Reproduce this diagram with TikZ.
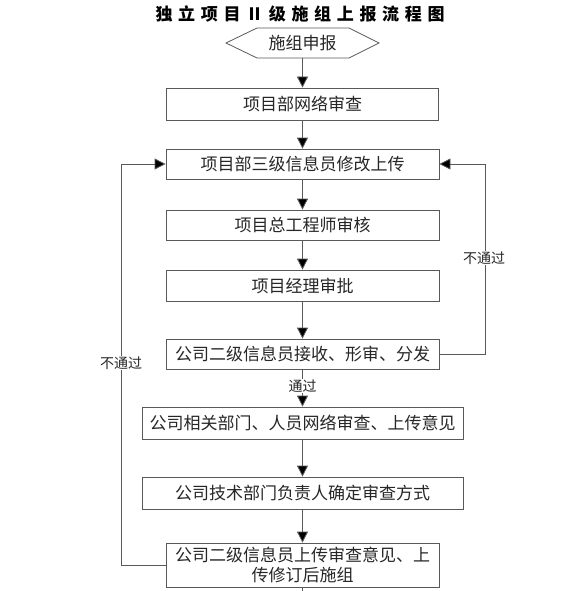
\documentclass[tikz,border=0pt]{standalone}
\usepackage{fontspec}
\setmainfont{Noto Sans CJK SC}
\newfontfamily\cjk{Noto Sans CJK SC}
\usetikzlibrary{arrows.meta}
\begin{document}
\begin{tikzpicture}[x=1pt,y=-1pt,
  line/.style={draw=black!65, line width=0.8pt},
  arr/.style={line, -{Triangle[width=11pt,length=11pt,fill=black]}},
  box/.style={draw=black!65, line width=0.8pt, rectangle, inner sep=0pt,
    font=\cjk\fontsize{17}{20.5}\selectfont, text=black!85},
  lbl/.style={font=\cjk\fontsize{14}{16}\selectfont, text=black!85, fill=white, inner sep=1pt}
]
\useasboundingbox (0,0) rectangle (575,591);
\node[font=\cjk\bfseries\fontsize{17}{20}\selectfont] (title) at (300,14)
  {独\,\,立\,\,项\,\,目\,\,Ⅱ\,\,级\,\,施\,\,组\,\,上\,\,报\,\,流\,\,程\,\,图};
% hexagon start
\node[box, draw=none, minimum width=152pt, minimum height=30pt] (s) at (302.5,43) {施组申报};
\draw[line] (226,43) -- (257,28) -- (349,28) -- (379,43) -- (349,58) -- (257,58) -- cycle;
\node[box, minimum width=272pt, minimum height=32pt] (b1) at (302.5,104) {项目部网络审查};
\node[box, minimum width=273pt, minimum height=30pt] (b2) at (302.5,164) {项目部三级信息员修改上传};
\node[box, minimum width=273pt, minimum height=30pt] (b3) at (302.5,225) {项目总工程师审核};
\node[box, minimum width=273pt, minimum height=31pt] (b4) at (302.5,285.5) {项目经理审批};
\node[box, minimum width=273pt, minimum height=30pt] (b5) at (302.5,354) {公司二级信息员接收、形审、分发};
\node[box, minimum width=321pt, minimum height=32pt] (b6) at (302.5,423) {公司相关部门、人员网络审查、上传意见};
\node[box, minimum width=321pt, minimum height=32pt] (b7) at (302.5,493) {公司技术部门负责人确定审查方式};
\node[box, minimum width=273pt, minimum height=44pt, align=center] (b8) at (302.5,565)
  {公司二级信息员上传审查意见、上\\传修订后施组};
\coordinate (end) at (302.5,591);
% vertical flow
\draw[arr] (s.south) -- (b1.north);
\draw[arr] (b1) -- (b2);
\draw[arr] (b2) -- (b3);
\draw[arr] (b3) -- (b4);
\draw[arr] (b4) -- (b5);
\draw[arr] (b5) -- node[lbl, pos=0.45] (pass) {通过} (b6);
\draw[arr] (b6) -- (b7);
\draw[arr] (b7) -- (b8);
\draw[line] (b8) -- (end);
% right loop
\coordinate (rc1) at (485,354);
\coordinate (rc2) at (485,164);
\draw[arr] (b5.east) -- (rc1) -- (rc2) -- (b2.east);
\node[lbl] (nr) at (484,258) {不通过};
% left loop
\coordinate (lc1) at (121,565);
\coordinate (lc2) at (121,164);
\draw[arr] (b8.west) -- (lc1) -- (lc2) -- (b2.west);
\node[lbl] (nl) at (121,363) {不通过};
\end{tikzpicture}
\end{document}
